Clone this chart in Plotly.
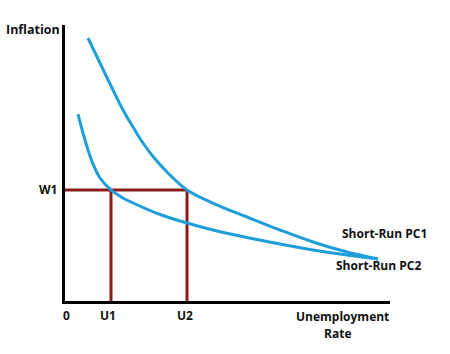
import plotly.graph_objects as go

# Short-run Phillips curve 1
pc1_x = [0.708, 1.477, 1.785, 2.092, 2.400, 2.708, 3.138, 3.754, 4.615, 5.600, 6.615, 7.631, 8.677, 9.631]
pc1_y = [9.529, 7.645, 6.920, 6.304, 5.725, 5.236, 4.674, 4.022, 3.514, 3.043, 2.572, 2.138, 1.775, 1.522]

# Short-run Phillips curve 2
pc2_x = [0.400, 0.554, 0.708, 0.862, 1.077, 1.415, 1.754, 2.092, 2.923, 3.754, 4.554, 5.600, 6.615, 7.631, 8.677, 9.631]
pc2_y = [6.775, 6.087, 5.471, 4.964, 4.457, 4.022, 3.750, 3.551, 3.134, 2.826, 2.572, 2.301, 2.065, 1.848, 1.667, 1.522]

# reference levels
W1 = 4.022
U1 = 1.415
U2 = 3.754

tick_labels_x = ["0", "U1", "U2"]
tick_label_y = "W1"
curve_labels = ["Short-Run PC1", "Short-Run PC2"]

BLUE = "#1E9FDA"
RED = "#8B1A1A"
FONT = dict(family="Open Sans, Arial, sans-serif", size=12, color="#111111")

fig = go.Figure()

# guide lines
fig.add_trace(go.Scatter(x=[0, U2], y=[W1, W1], mode="lines",
                         line=dict(color=RED, width=3), hoverinfo="skip"))
fig.add_trace(go.Scatter(x=[U1, U1], y=[0, W1], mode="lines",
                         line=dict(color=RED, width=3), hoverinfo="skip"))
fig.add_trace(go.Scatter(x=[U2, U2], y=[0, W1], mode="lines",
                         line=dict(color=RED, width=3), hoverinfo="skip"))

# curves
fig.add_trace(go.Scatter(x=pc1_x, y=pc1_y, mode="lines",
                         line=dict(color=BLUE, width=3, shape="spline", smoothing=1.0)))
fig.add_trace(go.Scatter(x=pc2_x, y=pc2_y, mode="lines",
                         line=dict(color=BLUE, width=3, shape="spline", smoothing=1.0)))

L, R, T, B = 65, 60, 25, 53
W, H = 450, 354
pw, ph = W - L - R, H - T - B


def px_x(px):
    return (px - L) / pw


def px_y(py):
    return (H - B - py) / ph


ann = []
ann.append(dict(text="<b>Inflation</b>", xref="paper", yref="paper",
                x=px_x(62), y=px_y(30), xanchor="right", yanchor="middle",
                font=dict(FONT, size=12.5)))
ann.append(dict(text="<b>" + tick_label_y + "</b>", xref="paper", yref="y",
                x=px_x(59), y=W1, xanchor="right", yanchor="middle"))
for val, lab, sh in zip([0, U1, U2], tick_labels_x, [1, -3, -2]):
    ann.append(dict(text="<b>" + lab + "</b>", xref="x", yref="paper",
                    x=val, y=px_y(315), xshift=sh, xanchor="center", yanchor="middle"))
ann.append(dict(text="<b>Unemployment</b>", xref="paper", yref="paper",
                x=px_x(342), y=px_y(316), xanchor="center", yanchor="middle"))
ann.append(dict(text="<b>Rate</b>", xref="paper", yref="paper",
                x=px_x(337), y=px_y(333), xanchor="center", yanchor="middle"))
ann.append(dict(text="<b>" + curve_labels[0] + "</b>", xref="paper", yref="paper",
                x=px_x(384.5), y=px_y(233), xanchor="center", yanchor="middle"))
ann.append(dict(text="<b>" + curve_labels[1] + "</b>", xref="paper", yref="paper",
                x=px_x(378), y=px_y(265), xanchor="center", yanchor="middle"))
for a in ann:
    a.setdefault("font", FONT)
    a.update(showarrow=False)

fig.update_layout(
    width=W, height=H,
    margin=dict(l=L, r=R, t=T, b=B),
    paper_bgcolor="white", plot_bgcolor="white",
    showlegend=False,
    annotations=ann,
    xaxis=dict(range=[0, 10], showgrid=False, zeroline=False, showticklabels=False,
               ticks="", showline=True, linecolor="black", linewidth=3, fixedrange=True),
    yaxis=dict(range=[0, 10], showgrid=False, zeroline=False, showticklabels=False,
               ticks="", showline=True, linecolor="black", linewidth=3, fixedrange=True),
)

fig.write_html("out.html", config={"displayModeBar": False})
